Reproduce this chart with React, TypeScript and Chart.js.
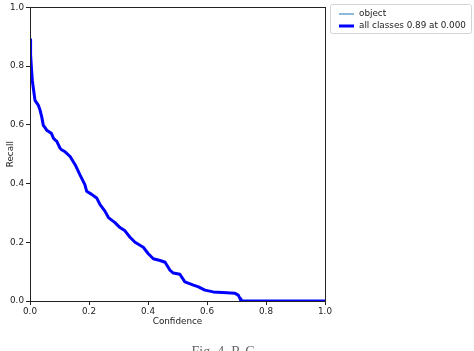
import React, { useEffect, useRef } from "react";
import { Chart, registerables } from "chart.js";

Chart.register(...registerables);

const confidence = [0, 0.002, 0.005, 0.008, 0.011, 0.017, 0.028, 0.034, 0.040, 0.045, 0.051, 0.057, 0.062, 0.073, 0.079, 0.085, 0.090, 0.102, 0.107, 0.119, 0.136, 0.153, 0.169, 0.186, 0.192, 0.209, 0.226, 0.237, 0.254, 0.266, 0.288, 0.305, 0.322, 0.339, 0.356, 0.384, 0.401, 0.418, 0.441, 0.458, 0.475, 0.486, 0.508, 0.525, 0.554, 0.571, 0.593, 0.621, 0.667, 0.695, 0.706, 0.712, 0.715, 1.0];
const recall = [0.89, 0.84, 0.79, 0.75, 0.727, 0.683, 0.667, 0.650, 0.626, 0.598, 0.590, 0.581, 0.578, 0.570, 0.555, 0.548, 0.545, 0.520, 0.515, 0.508, 0.492, 0.464, 0.430, 0.396, 0.374, 0.363, 0.351, 0.329, 0.306, 0.284, 0.267, 0.250, 0.239, 0.217, 0.200, 0.183, 0.161, 0.144, 0.138, 0.132, 0.104, 0.095, 0.091, 0.065, 0.054, 0.048, 0.037, 0.031, 0.028, 0.026, 0.020, 0.008, 0, 0];

const seriesLabels = ["object", "all classes 0.89 at 0.000"];
const seriesColors = ["#1f77b4", "#0000ff"];
const seriesWidths = [1, 3];
const xTitle = "Confidence";
const yTitle = "Recall";
const caption = "Fig. 4. R-C";

const FONT = "'DejaVu Sans', sans-serif";
const FS = 8.8;

export default function App() {
  const ref = useRef<HTMLCanvasElement | null>(null);
  useEffect(() => {
    if (!ref.current) return;
    const pts = confidence.map((c, i) => ({ x: c, y: recall[i] }));
    const framePlugin = {
      id: "frame",
      afterDatasetsDraw(chart: any) {
        const { ctx, chartArea: a } = chart;
        ctx.save();
        ctx.strokeStyle = "#222";
        ctx.lineWidth = 1;
        ctx.strokeRect(Math.round(a.left) + 0.5, Math.round(a.top) + 0.5, Math.round(a.right - a.left), Math.round(a.bottom - a.top));
        ctx.restore();
      },
      afterDraw(chart: any) {
        const { ctx } = chart;
        ctx.save();
        const fx = 330.5, fy = 4.5, fw = 141, fh = 29;
        ctx.beginPath();
        ctx.roundRect(fx, fy, fw, fh, 2);
        ctx.fillStyle = "rgba(255,255,255,0.8)";
        ctx.fill();
        ctx.strokeStyle = "#d4d4d4";
        ctx.lineWidth = 1;
        ctx.stroke();
        ctx.font = `${FS}px ${FONT}`;
        ctx.textBaseline = "middle";
        ctx.textAlign = "left";
        const ys = [14, 26];
        seriesLabels.forEach((lab, i) => {
          ctx.beginPath();
          ctx.strokeStyle = seriesColors[i];
          ctx.lineWidth = seriesWidths[i];
          ctx.moveTo(339, ys[i]);
          ctx.lineTo(354, ys[i]);
          ctx.stroke();
          ctx.fillStyle = "#222";
          ctx.fillText(lab, 359, ys[i]);
        });
        ctx.restore();
      },
    };
    const chart = new Chart(ref.current, {
      type: "line",
      data: {
        datasets: [
          {
            label: seriesLabels[0],
            data: pts,
            borderColor: seriesColors[0],
            borderWidth: seriesWidths[0],
            pointRadius: 0,
            tension: 0,
            clip: 0,
            order: 2,
          },
          {
            label: seriesLabels[1],
            data: pts,
            borderColor: seriesColors[1],
            borderWidth: seriesWidths[1],
            pointRadius: 0,
            tension: 0,
            borderJoinStyle: "round",
            borderCapStyle: "round",
            clip: 0,
            order: 1,
          },
        ],
      },
      options: {
        animation: false,
        responsive: false,
        maintainAspectRatio: false,
        layout: { padding: { top: 4, right: 149, left: 0, bottom: 0 } },
        plugins: { legend: { display: false }, tooltip: { enabled: false } },
        scales: {
          x: {
            type: "linear",
            min: 0,
            max: 1,
            afterFit: (s: any) => { s.height = 50; },
            border: { display: false },
            grid: { display: true, drawOnChartArea: false, drawTicks: true, tickLength: 4, color: "#222" },
            ticks: {
              stepSize: 0.2,
              padding: 1,
              maxRotation: 0,
              color: "#222",
              font: { family: FONT, size: FS },
              callback: (v: any) => Number(v).toFixed(1),
            },
            title: { display: true, text: xTitle, color: "#222", font: { family: FONT, size: FS }, padding: { top: 0, bottom: 24 } },
          },
          y: {
            type: "linear",
            min: 0,
            max: 1,
            afterFit: (s: any) => { s.width = 30; },
            border: { display: false },
            grid: { display: true, drawOnChartArea: false, drawTicks: true, tickLength: 4, color: "#222" },
            ticks: {
              stepSize: 0.2,
              padding: 2,
              color: "#222",
              font: { family: FONT, size: FS },
              callback: (v: any) => Number(v).toFixed(1),
            },
            title: { display: true, text: yTitle, color: "#222", font: { family: FONT, size: FS }, padding: { top: 5, bottom: 0 } },
          },
        },
      },
      plugins: [framePlugin],
    } as any);
    return () => chart.destroy();
  }, []);
  return (
    <div style={{ position: "absolute", left: 0, top: 0, width: 474, height: 351, overflow: "hidden", background: "#fff" }}>
      <canvas ref={ref} width={474} height={351} style={{ display: "block", width: 474, height: 351 }} />
      <div
        style={{
          position: "absolute",
          left: 0,
          width: 446,
          top: 344,
          textAlign: "center",
          fontFamily: "'Liberation Serif', serif",
          fontSize: 14,
          color: "#666",
          whiteSpace: "nowrap",
        }}
      >
        {caption}
      </div>
    </div>
  );
}
